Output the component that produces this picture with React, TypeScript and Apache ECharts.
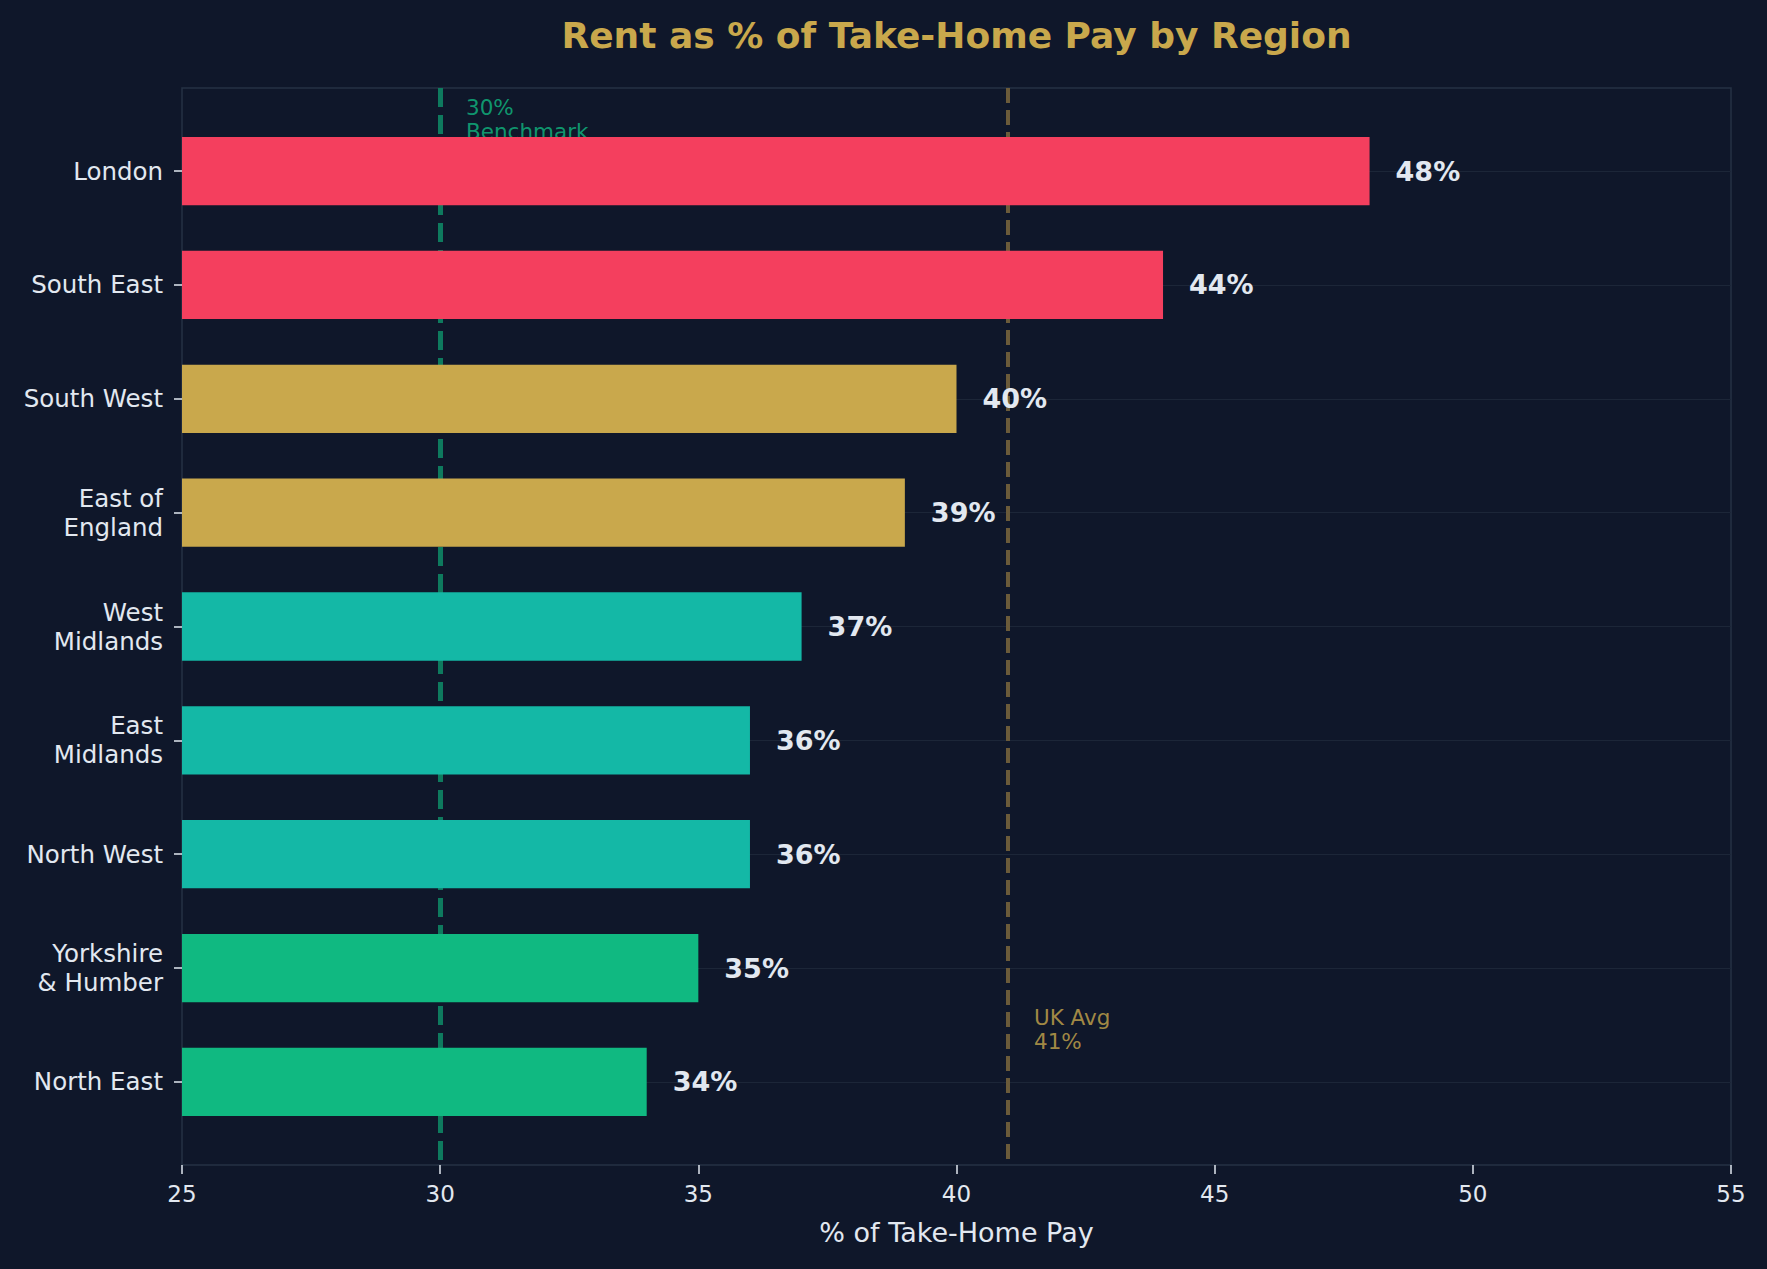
import React, { useEffect, useRef } from "react";
import * as echarts from "echarts";

// Regions, top to bottom, and rent as a share of take-home pay (%)
const regions = [
  "London",
  "South East",
  "South West",
  "East of\nEngland",
  "West\nMidlands",
  "East\nMidlands",
  "North West",
  "Yorkshire\n& Humber",
  "North East",
];
const rentShare = [48, 44, 40, 39, 37, 36, 36, 35, 34];

// Axis range and tick step for the percentage axis
const X_MIN = 25;
const X_MAX = 55;
const X_STEP = 5;

// Reference lines
const BENCHMARK = 30;
const UK_AVERAGE = 41;

const BG = "#0f172a";
const TEXT = "#e2e8f0";
const GOLD = "#c9a84c";
const FONT = "DejaVu Sans";

// Colour tier of a bar from its value
const tierColor = (v: number) =>
  v >= 42 ? "#f43f5e" : v >= 38 ? "#c9a84c" : v >= 36 ? "#14b8a6" : "#10b981";

// Plot frame (px) and the padding (in category units) above the first / below the last bar
const FRAME = { left: 182, right: 36, top: 88, bottom: 104 };
const CAT_PAD = 0.73;

export default function App() {
  const ref = useRef<HTMLDivElement>(null);

  useEffect(() => {
    if (!ref.current) return;
    const chart = echarts.init(ref.current, undefined, { renderer: "svg" });

    const H = 1269;
    const plotH = H - FRAME.top - FRAME.bottom;
    const unit = plotH / (regions.length - 1 + 2 * CAT_PAD);
    const catTop = FRAME.top + (CAT_PAD - 0.5) * unit;
    const catBottom = FRAME.bottom + (CAT_PAD - 0.5) * unit;

    const refLine = (value: number, color: string, width: number, dash: number[]) => ({
      xAxis: value,
      lineStyle: { color, width, type: dash },
    });

    // Faint horizontal guides through each bar's centre
    const guides = regions.map((_, i) => ({
      yAxis: i,
      lineStyle: { color: "#1c2638", width: 1.2, type: "solid" },
    }));

    const hiddenAxis = {
      show: false,
      axisLine: { show: false, onZero: false },
      axisTick: { show: false },
      axisLabel: { show: false },
      splitLine: { show: false },
    };

    chart.setOption({
      animation: false,
      backgroundColor: BG,
      textStyle: { fontFamily: FONT },
      graphic: [
        {
          type: "text",
          x: FRAME.left + (1767 - FRAME.left - FRAME.right) / 2,
          y: 35,
          style: {
            text: "Rent as % of Take-Home Pay by Region",
            fill: GOLD,
            font: `bold 36px '${FONT}'`,
            align: "center",
            verticalAlign: "middle",
          },
        },
      ],
      grid: [
        {
          left: FRAME.left,
          right: FRAME.right,
          top: FRAME.top,
          bottom: FRAME.bottom,
          show: true,
          borderColor: "#263244",
          borderWidth: 1.5,
          backgroundColor: "transparent",
        },
        {
          left: FRAME.left,
          right: FRAME.right,
          top: catTop,
          bottom: catBottom,
        },
      ],
      xAxis: [
        {
          type: "value",
          gridIndex: 0,
          position: "bottom",
          min: X_MIN,
          max: X_MAX,
          interval: X_STEP,
          name: "% of Take-Home Pay",
          nameLocation: "middle",
          nameGap: 54,
          nameTextStyle: { color: TEXT, fontSize: 27, fontFamily: FONT },
          axisLine: { show: false, onZero: false },
          axisTick: { show: true, length: 9, lineStyle: { color: TEXT, width: 1.5 } },
          axisLabel: { color: TEXT, fontSize: 23, margin: 17, fontFamily: FONT },
          splitLine: { show: false },
        },
        {
          type: "value",
          gridIndex: 1,
          min: X_MIN,
          max: X_MAX,
          interval: X_STEP,
          ...hiddenAxis,
        },
      ],
      yAxis: [
        {
          type: "value",
          gridIndex: 0,
          min: -CAT_PAD,
          max: regions.length - 1 + CAT_PAD,
          inverse: true,
          ...hiddenAxis,
        },
        {
          type: "category",
          gridIndex: 1,
          data: regions,
          inverse: true,
          axisLine: { show: false, onZero: false },
          axisTick: {
            show: true,
            alignWithLabel: true,
            length: 8,
            lineStyle: { color: TEXT, width: 1.5 },
          },
          axisLabel: {
            color: TEXT,
            fontSize: 24.5,
            lineHeight: 29,
            margin: 19,
            align: "right",
            fontFamily: FONT,
          },
          splitLine: { show: false },
        },
      ],
      series: [
        {
          // Guides, reference lines and their notes, all behind the bars
          type: "scatter",
          xAxisIndex: 0,
          yAxisIndex: 0,
          symbolSize: 0,
          silent: true,
          z: 1,
          data: [
            { value: [BENCHMARK + 0.5, -0.5], label: { color: "#10b981" } },
            { value: [UK_AVERAGE + 0.5, 7.5], label: { color: GOLD } },
          ],
          label: {
            show: true,
            position: "right",
            distance: 0,
            offset: [0, 5],
            align: "left",
            verticalAlign: "middle",
            fontSize: 21.5,
            lineHeight: 24,
            fontFamily: FONT,
            formatter: (p: any) =>
              p.dataIndex === 0 ? `${BENCHMARK}%\nBenchmark` : `UK Avg\n${UK_AVERAGE}%`,
          },
          markLine: {
            silent: true,
            z: 1,
            symbol: ["none", "none"],
            symbolSize: 0,
            label: { show: false },
            emphasis: { disabled: true },
            data: [
              ...guides,
              refLine(BENCHMARK, "#0e7a5e", 5, [19, 8]),
              refLine(UK_AVERAGE, "#6b5b3a", 4, [15, 7]),
            ],
          },
        },
        {
          type: "bar",
          xAxisIndex: 1,
          yAxisIndex: 1,
          barWidth: "60%",
          z: 5,
          clip: true,
          data: rentShare.map((v) => ({ value: v, itemStyle: { color: tierColor(v) } })),
          label: {
            show: true,
            position: "right",
            distance: 26,
            color: TEXT,
            fontSize: 27,
            fontWeight: "bold",
            fontFamily: FONT,
            formatter: (p: any) => `${p.value}%`,
          },
        },
      ],
    });

    return () => chart.dispose();
  }, []);

  return (
    <div
      ref={ref}
      style={{ position: "fixed", left: 0, top: 0, width: 1767, height: 1269 }}
    />
  );
}
